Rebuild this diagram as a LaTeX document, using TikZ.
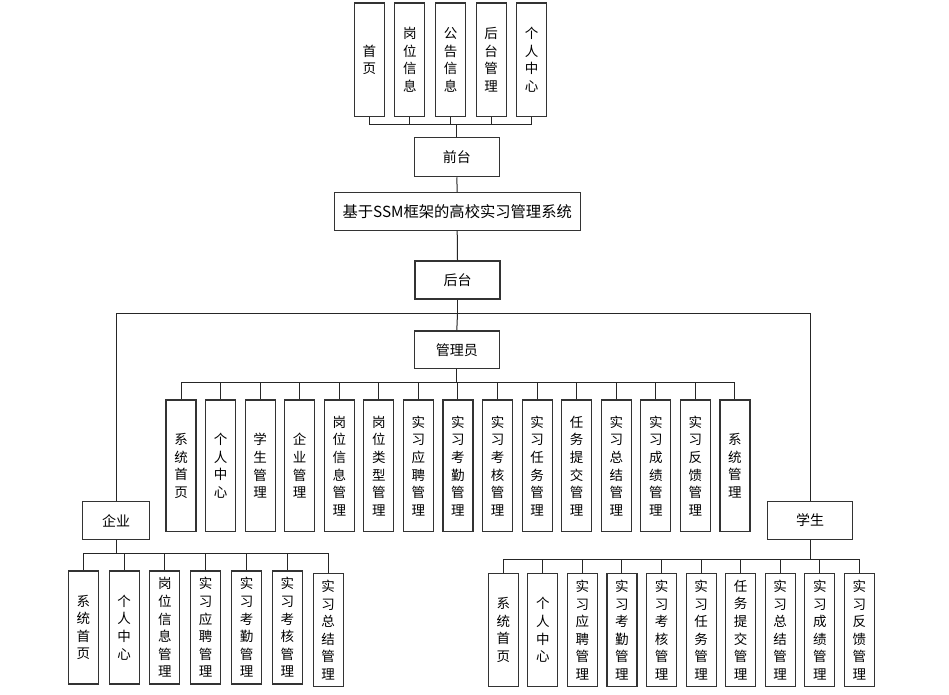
\documentclass[tikz,border=0pt]{standalone}
\usepackage{fontspec}
\newfontfamily\cjk{Noto Sans CJK SC}
\begin{document}
\begin{tikzpicture}[x=1pt,y=-1pt,
  box/.style={draw=black!80,line width=1.1pt,fill=white,inner sep=0pt,align=center},
  hbox/.style={box,font=\cjk\fontsize{14}{16}\selectfont},
  vbox/.style={box,minimum width=30pt,font=\cjk\fontsize{13.5}{17.6}\selectfont},
  conn/.style={draw=black!85,line width=1pt}]
\useasboundingbox (0,0) rectangle (949,694);
\fill[white] (0,0) rectangle (949,694);
% top row
\foreach \t [count=\i from 0] in {{首\\页},{岗\\位\\信\\息},{公\\告\\信\\息},{后\\台\\管\\理},{个\\人\\中\\心}}
  \node[vbox,minimum height=113.7pt] (t\i) at (369.3+\i*40.6,59.85) {\t};
\node[hbox,minimum width=85pt,minimum height=39pt] (qt) at (456.8,157.2) {前台};
\node[box,font=\cjk\fontsize{15.3}{17}\selectfont,minimum width=245.7pt,minimum height=37.7pt] (sys) at (457.2,211.2) {基于SSM框架的高校实习管理系统};
\node[hbox,minimum width=85pt,minimum height=38pt] (ht) at (457.5,280) {后台};
\node[hbox,minimum width=85pt,minimum height=37.7pt] (adm) at (456.8,349.8) {管理员};
\node[hbox,minimum width=66.6pt,minimum height=37.4pt] (ent) at (116,520.5) {企业};
\node[hbox,minimum width=85.7pt,minimum height=37.4pt] (stu) at (810,520.5) {学生};
% bus coordinates
\coordinate (tb) at (0,124);
\coordinate (hb) at (0,313.3);
\coordinate (ab) at (0,382.7);
\coordinate (eb) at (0,553.3);
\coordinate (sb) at (0,559);
% admin children
\foreach \t [count=\i from 0] in {{系\\统\\首\\页},{个\\人\\中\\心},{学\\生\\管\\理},{企\\业\\管\\理},{岗\\位\\信\\息\\管\\理},{岗\\位\\类\\型\\管\\理},{实\\习\\应\\聘\\管\\理},{实\\习\\考\\勤\\管\\理},{实\\习\\考\\核\\管\\理},{实\\习\\任\\务\\管\\理},{任\\务\\提\\交\\管\\理},{实\\习\\总\\结\\管\\理},{实\\习\\成\\绩\\管\\理},{实\\习\\反\\馈\\管\\理},{系\\统\\管\\理}}
  \node[vbox,minimum height=131.7pt] (a\i) at (181+\i*39.57,465.85) {\t};
% enterprise children
\foreach \t [count=\i from 0] in {{系\\统\\首\\页},{个\\人\\中\\心},{岗\\位\\信\\息\\管\\理},{实\\习\\应\\聘\\管\\理},{实\\习\\考\\勤\\管\\理},{实\\习\\考\\核\\管\\理}}
  \node[vbox,minimum height=113pt] (e\i) at (83.3+\i*40.8,627.5) {\t};
\node[vbox,minimum height=113.4pt] (e6) at (83.3+6*40.8,630) {实\\习\\总\\结\\管\\理};
% student children
\foreach \t [count=\i from 0] in {{系\\统\\首\\页},{个\\人\\中\\心},{实\\习\\应\\聘\\管\\理},{实\\习\\考\\勤\\管\\理},{实\\习\\考\\核\\管\\理},{实\\习\\任\\务\\管\\理},{任\\务\\提\\交\\管\\理},{实\\习\\总\\结\\管\\理},{实\\习\\成\\绩\\管\\理},{实\\习\\反\\馈\\管\\理}}
  \node[vbox,minimum height=113.4pt] (s\i) at (503.3+\i*39.56,630) {\t};
% connectors
\draw[conn] (qt.north) -- (qt.north |- tb);
\foreach \i in {0,...,4} \draw[conn] (qt.north |- tb) -| (t\i.south);
\draw[conn] (qt.south) -- (sys.north);
\draw[conn] (sys.south) -- (ht.north);
\draw[conn] (ht.south) -- (ht.south |- hb);
\draw[conn] (ht.south |- hb) -- (adm.north);
\draw[conn] (ht.south |- hb) -| (ent.north);
\draw[conn] (ht.south |- hb) -| (stu.north);
\draw[conn] (adm.south) -- (adm.south |- ab);
\foreach \i in {0,...,14} \draw[conn] (adm.south |- ab) -| (a\i.north);
\draw[conn] (ent.south) -- (ent.south |- eb);
\foreach \i in {0,...,6} \draw[conn] (ent.south |- eb) -| (e\i.north);
\draw[conn] (stu.south) -- (stu.south |- sb);
\foreach \i in {0,...,9} \draw[conn] (stu.south |- sb) -| (s\i.north);
\end{tikzpicture}
\end{document}
